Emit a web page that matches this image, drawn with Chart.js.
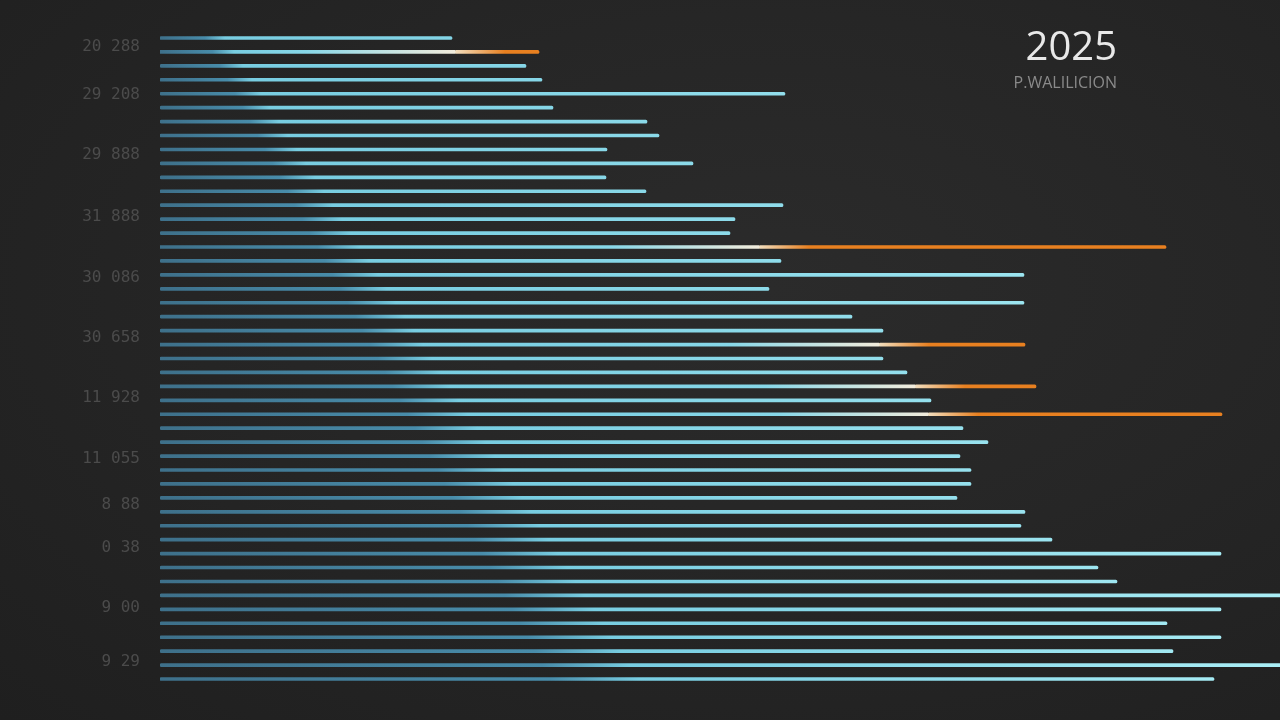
<!DOCTYPE html>
<html>
<head>
<meta charset="utf-8">
<script src="https://cdn.jsdelivr.net/npm/chart.js@4.4.1/dist/chart.umd.min.js"></script>
<style>
  html, body { margin: 0; padding: 0; }
  body {
    width: 1280px; height: 720px; overflow: hidden; position: relative;
    background: radial-gradient(ellipse at 60% 40%, #2b2b2b 0%, #262626 45%, #1f1f1f 100%);
  }
  #wrap { position: absolute; left: 0; top: 0; width: 1280px; height: 720px; }
  .year {
    position: absolute; right: 163px; top: 22px;
    font-family: "Open Sans", "Noto Sans", sans-serif; font-size: 40px; line-height: 46px;
    color: #e8e8e8; font-weight: 400;
  }
  .sub {
    position: absolute; right: 163px; top: 72px;
    font-family: "Open Sans", "Noto Sans", sans-serif; font-size: 16px; line-height: 20px;
    color: #8a8a8a;
  }
</style>
</head>
<body>
<div id="wrap"><canvas id="chart" width="1280" height="720"></canvas></div>
<div class="year">2025</div>
<div class="sub">P.WALILICION</div>
<script>
// bar lengths, top row first (axis runs 0..112, unlabelled)
const rowTotals = [
  29.2, 37.9, 36.6, 38.2, 62.5, 39.3, 48.7, 49.9, 44.7, 53.3,
  44.6, 48.6, 62.3, 57.5, 57.0, 100.6, 62.1, 86.4, 60.9, 86.4,
  69.2, 72.3, 86.5, 72.3, 74.7, 87.6, 77.1, 106.2, 80.3, 82.8,
  80.0, 81.1, 81.1, 79.7, 86.5, 86.1, 89.2, 106.1, 93.8, 95.7,
  114, 106.1, 100.7, 106.1, 101.3, 114, 105.4
];
const rowNames = rowTotals.map((v, i) => 'row ' + (i + 1));

// rows that turn orange, and where the orange part begins
const accentRows = [1, 15, 22, 25, 27];
const accentStarts = [29.5, 59.9, 71.9, 75.5, 76.8];

// left side labels and the row position they sit at
const tickLabels = ['20 288', '29 208', '29 888', '31 888', '30 086', '30 658',
                    '11 928', '11 055', '8 88', '0 38', '9 00', '9 29'];
const tickRows = [0.67, 4.1, 8.4, 12.8, 17.2, 21.5, 25.8, 30.2, 33.5, 36.6, 40.9, 44.8];

function accentStartOf(i) {
  const k = accentRows.indexOf(i);
  return k >= 0 ? accentStarts[k] : null;
}

const baseData = rowTotals.map((v, i) => {
  const s = accentStartOf(i);
  return s === null ? v : s;
});
const accentData = rowTotals.map((v, i) => {
  const s = accentStartOf(i);
  return s === null ? null : v - s;
});

// fade point moves right as we go down the rows
function fadeX(i) { return 205 + i * 7.5; }

function baseColor(ctx) {
  const chart = ctx.chart;
  const area = chart.chartArea;
  if (!area) return '#7fd6e6';
  const i = ctx.dataIndex;
  const left = area.left, w = area.right - area.left;
  const g = chart.ctx.createLinearGradient(left, 0, area.right, 0);
  const t = Math.min(0.9, (fadeX(i) - left) / w);
  const t2 = Math.min(0.92, t + (20 + i * 1.5) / w);
  g.addColorStop(0, 'rgb(62,112,138)');
  g.addColorStop(t, 'rgb(72,140,170)');
  g.addColorStop(t2, 'rgb(120,205,225)');
  const s = accentStartOf(i);
  if (s !== null) {
    const xs = chart.scales.x.getPixelForValue(s);
    const tc = Math.max(t2 + 0.001, (xs - 150 - left) / w);
    const te = Math.max(tc + 0.001, (xs - left) / w);
    g.addColorStop(tc, 'rgb(135,215,232)');
    g.addColorStop(te, 'rgb(242,236,220)');
    g.addColorStop(Math.min(1, te + 0.002), 'rgb(242,236,220)');
    if (te + 0.002 < 1) g.addColorStop(1, 'rgb(242,236,220)');
  } else {
    g.addColorStop(1, 'rgb(170,238,246)');
  }
  return g;
}

function accentColor(ctx) {
  const chart = ctx.chart;
  const area = chart.chartArea;
  const i = ctx.dataIndex;
  const s = accentStartOf(i);
  if (!area || s === null) return '#e8821e';
  const x0 = chart.scales.x.getPixelForValue(s);
  const g = chart.ctx.createLinearGradient(x0, 0, x0 + 50, 0);
  g.addColorStop(0, 'rgb(242,222,190)');
  g.addColorStop(1, 'rgb(232,128,32)');
  return g;
}

new Chart(document.getElementById('chart'), {
  type: 'bar',
  data: {
    labels: rowNames,
    datasets: [
      { label: 'base', data: baseData, backgroundColor: baseColor,
        barThickness: 3, borderRadius: 1.5, borderSkipped: false },
      { label: 'accent', data: accentData, backgroundColor: accentColor,
        barThickness: 3, borderRadius: 1.5, borderSkipped: false }
    ]
  },
  options: {
    indexAxis: 'y',
    responsive: false,
    animation: false,
    layout: { padding: { top: 31, bottom: 34, left: 0, right: 0 } },
    plugins: { legend: { display: false }, tooltip: { enabled: false } },
    scales: {
      x: { stacked: true, display: false, min: 0, max: 112 },
      y: { stacked: true, display: false },
      yLab: {
        type: 'linear', position: 'left', reverse: true, offset: false,
        min: -0.5, max: rowTotals.length - 0.5,
        grid: { display: false, drawTicks: false, offset: false },
        border: { display: false },
        afterBuildTicks: (axis) => { axis.ticks = tickRows.map(v => ({ value: v })); },
        afterFit: (axis) => { axis.width = 160; },
        ticks: {
          autoSkip: false,
          padding: 20,
          color: '#4b4b4b',
          font: { family: 'DejaVu Sans Mono', size: 16 },
          callback: (value, index) => tickLabels[index]
        }
      }
    }
  }
});
</script>
</body>
</html>
